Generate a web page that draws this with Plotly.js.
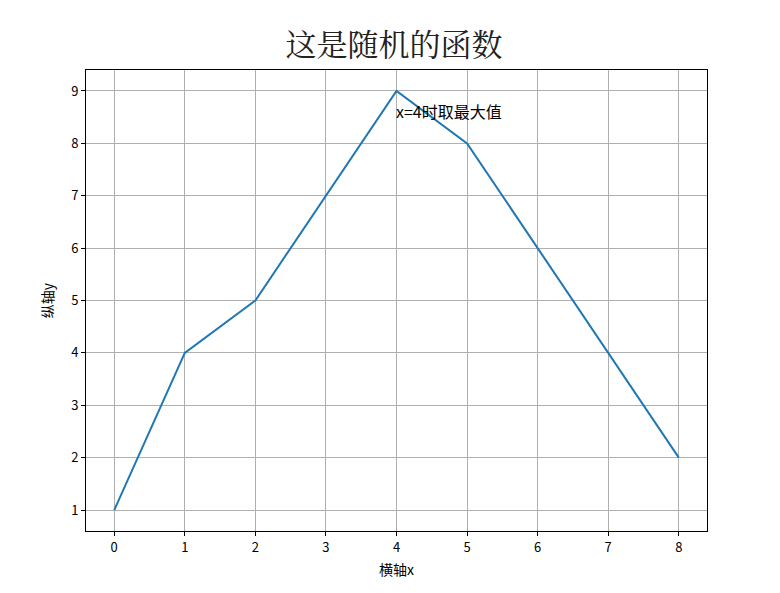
<!DOCTYPE html>
<html>
<head>
<meta charset="utf-8">
<script src="https://cdn.plot.ly/plotly-3.0.1.min.js"></script>
<style>
  body { margin: 0; background: #fff; }
  #chart { width: 780px; height: 593px; }
</style>
</head>
<body>
<div id="chart"></div>
<script>
// data
const xs = [0, 1, 2, 3, 4, 5, 6, 7, 8];
const ys = [1, 4, 5, 7, 9, 8, 6, 4, 2];
const peakX = 4;
const peakLabelY = 8.6;
const peakLabel = 'x=4时取最大值';

const font = 'SimHei, "Noto Sans CJK SC", "DejaVu Sans", sans-serif';

const trace = {
    x: xs,
    y: ys,
    type: 'scatter',
    mode: 'lines',
    line: { color: '#1f77b4', width: 2 },
    hoverinfo: 'skip'
};

const axisCommon = {
    showgrid: true,
    gridcolor: '#b0b0b0',
    gridwidth: 1,
    zeroline: false,
    showline: true,
    linecolor: '#000',
    linewidth: 1,
    mirror: true,
    ticks: 'outside',
    ticklen: 4,
    tickcolor: '#000',
    tickfont: { family: font, size: 13, color: '#000' }
};

const layout = {
    width: 780,
    height: 593,
    margin: { l: 86, r: 73, t: 70, b: 62 },
    paper_bgcolor: '#fff',
    plot_bgcolor: '#fff',
    showlegend: false,
    font: { family: font, color: '#000' },
    title: {
        text: '这是随机的函数',
        font: { family: '"Noto Serif CJK SC", "Noto Sans CJK SC", sans-serif', size: 31, color: '#222' },
        x: 0.505, xanchor: 'center',
        y: 0.924, yanchor: 'middle'
    },
    xaxis: Object.assign({}, axisCommon, {
        range: [-0.4, 8.4],
        tickvals: xs,
        title: { text: '横轴x', font: { family: font, size: 14 }, standoff: 10 }
    }),
    yaxis: Object.assign({}, axisCommon, {
        range: [0.6, 9.4],
        tickvals: [1, 2, 3, 4, 5, 6, 7, 8, 9],
        title: { text: '纵轴y', font: { family: font, size: 14 }, standoff: 14 }
    }),
    annotations: [{
        x: peakX, y: peakLabelY,
        xref: 'x', yref: 'y',
        text: peakLabel,
        showarrow: false,
        xanchor: 'left', yanchor: 'middle',
        xshift: -3, yshift: 1,
        font: { family: font, size: 16, color: '#000' }
    }]
};

Plotly.newPlot('chart', [trace], layout, { displayModeBar: false, staticPlot: true });
</script>
</body>
</html>
